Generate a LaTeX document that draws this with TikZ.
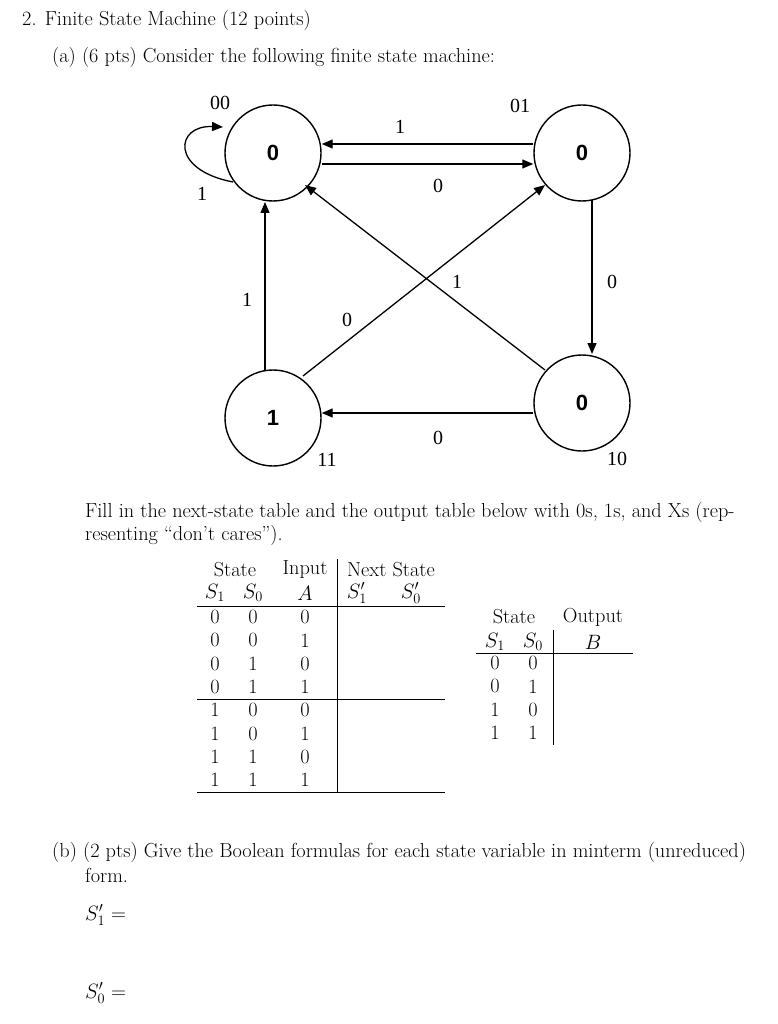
\documentclass[tikz,border=0pt]{standalone}
\usepackage{fontspec}
\newfontfamily\timesf{Liberation Serif}
\newfontfamily\arialf{Liberation Sans}
\usetikzlibrary{arrows.meta}
\begin{document}
\begin{tikzpicture}[x=1pt,y=-1pt,
  txt/.style={inner sep=0pt,anchor=west,font=\fontsize{20.3}{24}\selectfont},
  ct/.style={inner sep=0pt,anchor=center,font=\fontsize{20.3}{24}\selectfont},
  lbl/.style={inner sep=0pt,font=\fontsize{20}{22}\timesf},
  st/.style={circle,draw,line width=1.4pt,minimum size=96pt,inner sep=0pt,font=\fontsize{22}{24}\arialf\bfseries},
  ar/.style={line width=1.3pt,-{Triangle[length=11pt,width=9pt]}},
  rule/.style={line width=0.7pt}]
\useasboundingbox (0,0) rectangle (777,1024);
\node[txt] (t1) at (22,20) {2. Finite State Machine (12 points)};
\node[txt] (t2) at (52,57) {(a) (6 pts) Consider the following finite state machine:};
% states
\node[st] (s00) at (273,153) {0};
\node[st] (s01) at (582,153) {0};
\node[st] (s10) at (582,403) {0};
\node[st] (s11) at (273,418) {1};
\node[lbl] (n00) at (220,103) {00};
\node[lbl] (n01) at (520,106) {01};
\node[lbl] (n11) at (327,460) {11};
\node[lbl] (n10) at (617,459) {10};
% edges
\draw[ar] (s01.west|-0,144) -- (s00.east|-0,144);
\draw[ar] (s00.east|-0,164) -- (s01.west|-0,164);
\draw[ar] (592,200) -- (592,354);
\draw[ar] (265,370) -- (265,202);
\draw[ar] (s10.west|-0,413) -- (s11.east|-0,413);
\draw[ar] (303,376) -- (545,185);
\draw[ar] (545,370) -- (305,185);
\draw[ar] (233,182) .. controls (170,170) and (175,125) .. (223,127);
\node[lbl] (e1) at (400,127) {1};
\node[lbl] (e2) at (438,186) {0};
\node[lbl] (e3) at (202,194) {1};
\node[lbl] (e4) at (247,300) {1};
\node[lbl] (e5) at (347,320) {0};
\node[lbl] (e6) at (457,282) {1};
\node[lbl] (e7) at (612,282) {0};
\node[lbl] (e8) at (438,438) {0};
% text
\node[txt] (p1) at (85,512) {Fill in the next-state table and the output table below with 0s, 1s, and Xs (rep-};
\node[txt] (p2) at (85,535) {resenting ``don't cares'').};
% table 1
\draw[rule] (197,606) -- (445,606);
\draw[rule] (197,699) -- (445,699);
\draw[rule] (197,792) -- (445,792);
\draw[rule] (337,559) -- (337,792);
\node[ct] at (235,570) {State};
\node[ct] at (305,570) {Input};
\node[ct] at (391,570) {Next State};
\node[ct] at (215,593) {$S_1$};
\node[ct] at (253,593) {$S_0$};
\node[ct] at (305,593) {$A$};
\node[ct] at (357,593) {$S_1'$};
\node[ct] at (411,593) {$S_0'$};
\foreach \a/\b/\c [count=\i] in {0/0/0,0/0/1,0/1/0,0/1/1,1/0/0,1/0/1,1/1/0,1/1/1}{
  \pgfmathsetmacro\yy{617+(\i-1)*23.3}
  \node[ct] at (215,\yy) {\a};
  \node[ct] at (253,\yy) {\b};
  \node[ct] at (305,\yy) {\c};
}
% table 2
\draw[rule] (476,653) -- (633,653);
\draw[rule] (553,630) -- (553,745);
\node[ct] at (514,617) {State};
\node[ct] at (593,617) {Output};
\node[ct] at (495,642) {$S_1$};
\node[ct] at (533,642) {$S_0$};
\node[ct] at (593,642) {$B$};
\foreach \a/\b [count=\i] in {0/0,0/1,1/0,1/1}{
  \pgfmathsetmacro\yy{663+(\i-1)*23.3}
  \node[ct] at (495,\yy) {\a};
  \node[ct] at (533,\yy) {\b};
}
% part b
\node[txt] (b1) at (52,852) {(b) (2 pts) Give the Boolean formulas for each state variable in minterm (unreduced)};
\node[txt] (b2) at (85,875) {form.};
\node[txt] (b3) at (85,915) {$S_1' =$};
\node[txt] (b4) at (85,993) {$S_0' =$};
\end{tikzpicture}
\end{document}
